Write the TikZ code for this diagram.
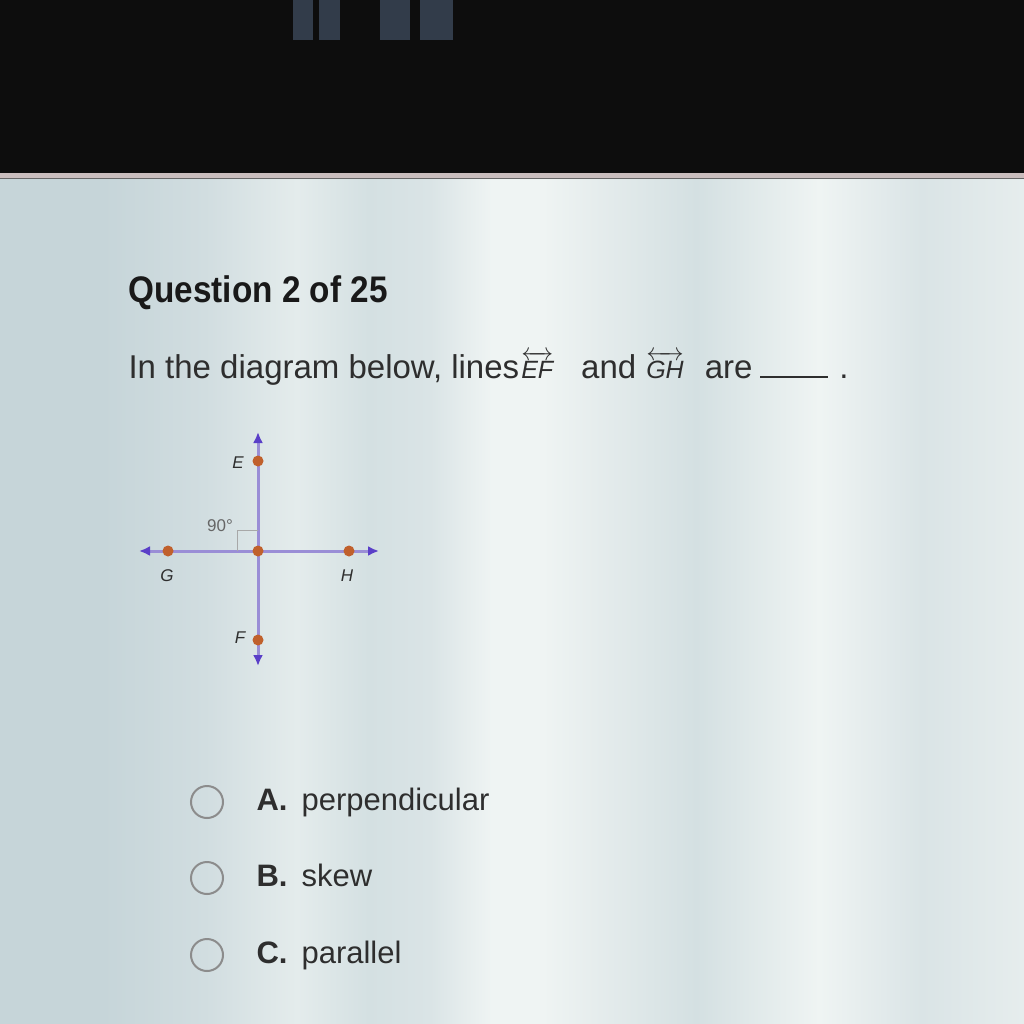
\documentclass[tikz,border=0pt]{standalone}
\usepackage{fontspec}
\setmainfont{Liberation Sans}
\usepackage{amsmath}
\usetikzlibrary{arrows.meta}

\definecolor{linec}{HTML}{9A8ED6}
\definecolor{tipc}{HTML}{5A3FC8}
\definecolor{dotc}{HTML}{C0602C}
\definecolor{labc}{HTML}{2E2E2E}
\definecolor{markc}{HTML}{A8A8A8}
\definecolor{ringc}{HTML}{8C8C8C}
\definecolor{glass}{HTML}{323C4A}
\definecolor{rimc}{HTML}{C9BDBD}
\definecolor{sa}{HTML}{C6D5D9}
\definecolor{sb}{HTML}{D1DDE0}
\definecolor{sc}{HTML}{E4ECEC}
\definecolor{sd}{HTML}{D4E0E2}
\definecolor{se}{HTML}{E6EDED}
\definecolor{sf}{HTML}{DAE4E6}
\definecolor{sg}{HTML}{EFF4F3}
\pgfdeclarehorizontalshading{glare}{100bp}{color(0bp)=(sa); color(25bp)=(sa);
  color(30bp)=(sa); color(35bp)=(sb); color(39.5bp)=(sc); color(43bp)=(sd);
  color(46bp)=(sf); color(49bp)=(sg); color(51.5bp)=(sg); color(54bp)=(se);
  color(59bp)=(sd); color(65bp)=(sg); color(70bp)=(sf); color(75bp)=(se);
  color(100bp)=(se)}

\begin{document}
\begin{tikzpicture}[x=1pt,y=-1pt,
    ln/.style={line width=3pt, color=linec},
    ptr/.tip={Latex[color=tipc,length=11pt,width=10pt]},
    dot/.style={circle, fill=dotc, inner sep=0pt, minimum size=11pt},
    lbl/.style={font=\fontsize{17}{17}\selectfont\itshape, text=labc},
    ring/.style={draw=ringc, line width=2pt},
    choice/.style={anchor=base west, font=\fontsize{31}{34}\selectfont, text=labc}]
    \useasboundingbox (0,0) rectangle (1024,1024);

    % Screen and bezel
    \fill[black!95] (0,0) rectangle (1024,174);
    \fill[glass] (293,0) rectangle (313,40);
    \fill[glass] (319,0) rectangle (340,40);
    \fill[glass] (380,0) rectangle (410,40);
    \fill[glass] (420,0) rectangle (453,40);
    \fill[rimc] (0,173) rectangle (1024,178);
    \fill[black!60] (0,178) rectangle (1024,180);
    \shade[shading=glare] (0,180) rectangle (1024,1024);

    % Question text
    \node[anchor=base west, text=black!90] (title) at (125,302)
        {\scalebox{0.9}[1]{\fontsize{37}{40}\selectfont\bfseries Question 2 of 25}};
    \node[anchor=base west, text=labc, font=\fontsize{33}{36}\selectfont] (prompt) at (125,378)
        {In the diagram below, lines\hspace{2pt}%
         $\overleftrightarrow{\mbox{\fontsize{25}{25}\selectfont\itshape EF}}$\hspace{28pt}and\hspace{10pt}%
         $\overleftrightarrow{\mbox{\fontsize{25}{25}\selectfont\itshape GH}}$\hspace{21pt}are\hspace{8pt}%
         \rule[0pt]{68pt}{1.8pt}\hspace{11pt}.};

    % Lines
    \coordinate (Etop) at (258,432);
    \coordinate (Fbot) at (258,666);
    \coordinate (Gend) at (139,551);
    \coordinate (Hend) at (379,551);
    \coordinate (O) at (258,551);
    \draw[ln, ptr-ptr] (Etop) -- (Fbot);
    \draw[ln, ptr-ptr] (Gend) -- (Hend);

    % Right angle
    \draw[markc, line width=1pt] (O) ++(-21,0) -- ++(0,-21) -- ++(21,0);
    \node[font=\fontsize{17}{17}\selectfont, text=black!60] (ang) at (220,526) {90\textdegree};

    % Points
    \foreach \n/\x/\y in {E/258/461, F/258/640, G/168/551, H/349/551, M/258/551} {
        \node[dot] (\n) at (\x,\y) {};
    }
    \node[lbl] (labE) at (238,463) {E};
    \node[lbl] (labF) at (240,638) {F};
    \node[lbl] (labG) at (167,576) {G};
    \node[lbl] (labH) at (347,576) {H};

    % Answer choices
    \foreach \l/\y/\t in {A/802/perpendicular, B/878/skew, C/955/parallel} {
        \draw[ring] (207,\y) circle (16);
        \node[choice, font=\fontsize{31}{34}\selectfont\bfseries] (key\l) at (253,\y+8) {\l.};
        \node[choice] (ans\l) at (298,\y+8) {\t};
    }
\end{tikzpicture}
\end{document}
